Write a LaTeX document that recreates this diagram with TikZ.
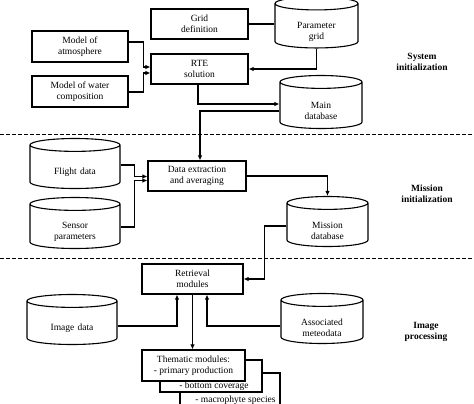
\documentclass[tikz,border=0pt]{standalone}
\usepackage{fontspec}
\setmainfont{Liberation Serif}
\usetikzlibrary{arrows.meta,positioning,shapes.geometric}

\begin{document}
\begin{tikzpicture}[x=1pt, y=-1pt, >={Latex[length=5pt,width=4.5pt]},
                    line width=1.1pt,
                    every node/.style={font=\fontsize{9.5}{11}\selectfont, align=center},
                    box/.style={draw, rectangle, minimum width=97pt, minimum height=30pt, inner sep=1pt},
                    db/.style={draw, cylinder, shape border rotate=90, aspect=0.28,
                               text width=46pt, text height=18pt,
                               minimum width=82pt, minimum height=52pt, inner sep=0pt},
                    stage/.style={font=\fontsize{9.5}{11}\selectfont\bfseries},
                    sep/.style={line width=0.9pt, dash pattern=on 3.5pt off 2.5pt}]
   \useasboundingbox (0,0) rectangle (474,404);

   % System initialization
   \node[box] (grid_def) at (199.5,24) {Grid\\definition};
   \node[box] (rte) at (199.5,69) {RTE\\solution};
   \node[box, minimum width=96pt, minimum height=31pt] (atmo) at (80,46.5) {Model of\\atmosphere};
   \node[box, minimum width=96pt, minimum height=31pt] (water) at (80,91.5) {Model of water\\composition};
   \node[db, minimum width=83pt, minimum height=48pt] (param_grid) at (316.5,26) {Parameter\\grid};
   \node[db, minimum height=53pt] (main_db) at (321,105.5) {Main\\database};
   \node[stage] (sys_init) at (422,62) {System\\initialization};

   % Mission initialization
   \node[db, minimum width=90pt, minimum height=50pt] (flight) at (75,167) {Flight data};
   \node[db, minimum width=90pt, minimum height=51pt] (sensor) at (75,226.5) {Sensor\\parameters};
   \node[box, minimum width=98pt] (extract) at (197,176) {Data extraction\\and averaging};
   \node[db, minimum width=81pt, minimum height=50pt] (mission_db) at (327.5,225) {Mission\\database};
   \node[stage] (mission_init) at (427,194) {Mission\\initialization};

   % Image processing
   \node[box, minimum width=101pt] (retrieval) at (192.5,279) {Retrieval\\modules};
   \node[db, minimum width=90pt, minimum height=50pt] (image) at (72,323) {Image data};
   \node[db, minimum width=82pt, minimum height=50pt] (assoc) at (322,322) {Associated\\meteodata};
   \node[stage] (img_proc) at (426,332) {Image\\processing};

   \node[box, fill=white, minimum width=100pt, minimum height=40pt] (theme_c) at (230,393) {};
   \node[box, fill=white, minimum width=102pt, minimum height=32pt] (theme_b) at (211,376) {};
   \node[box, fill=white, minimum width=103pt, minimum height=31pt] (theme_a) at (193.5,365.5)
        {Thematic modules:\\- primary production};
   \node (bottom_cov) at (214,386.5) {- bottom coverage};
   \node (macro_sp) at (235.5,400) {- macrophyte species};

   \draw[sep] (0,134.5) -- (474,134.5);
   \draw[sep] (0,258) -- (474,258);

   % Define connections
   \draw (grid_def.east) -- (grid_def.east -| param_grid.west);
   \draw[->] (param_grid.south) |- (rte.east);
   \draw[->] ([yshift=4.5pt]atmo.east) -- ++(15,0) |- ([yshift=2pt]rte.west);
   \draw[->] ([yshift=-0.5pt]water.east) -- ++(15,0) |- ([yshift=-4pt]rte.west);
   \draw[->] ([xshift=-1.5pt]rte.south) |- ([yshift=1.5pt]main_db.west);
   \draw[->] ([yshift=-5.5pt]main_db.west) -| ([xshift=3pt]extract.north);

   \draw[->] ([yshift=2pt]flight.east) -- ++(14,0) |- ([yshift=-0.5pt]extract.west);
   \draw[->] ([yshift=-0.5pt]sensor.east) -- ++(14,0) |- ([yshift=-4.5pt]extract.west);
   \draw[->] (extract.east) -| (mission_db.north);
   \draw[->] ([yshift=-1pt]mission_db.west) -- ++(-22,0) |- (retrieval.east);

   \draw[->] ([yshift=-3pt]image.east) -| ([xshift=-15.5pt]retrieval.south);
   \draw[->] ([yshift=-4pt]assoc.west) -| ([xshift=14.5pt]retrieval.south);
   \draw[->] (retrieval.south) -- (retrieval.south |- theme_a.north);
\end{tikzpicture}
\end{document}
